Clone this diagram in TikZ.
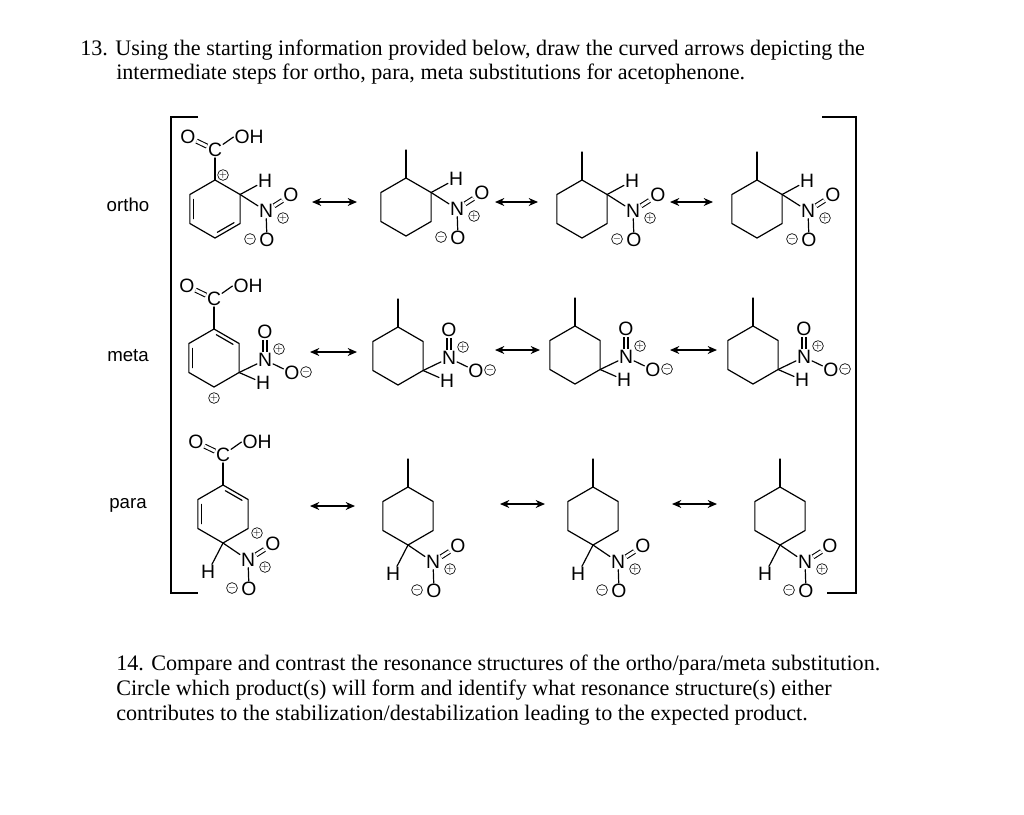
\documentclass[tikz,border=0pt]{standalone}
\usepackage{fontspec}
\setmainfont{Liberation Serif}
\setsansfont{Liberation Sans}
\usetikzlibrary{calc,arrows.meta}
\tikzset{
 bond/.style={line width=0.9pt,line cap=round},
 dbond/.style={double,double distance=2.2pt,line width=0.8pt},
 atom/.style={font=\sffamily\fontsize{14.5}{14.5}\selectfont,inner sep=0.6pt},
 chg/.style={draw,circle,line width=0.5pt,inner sep=0pt,minimum size=8pt,font=\fontsize{7.5}{7.5}\selectfont},
 rarrow/.style={{Stealth[length=7pt,width=6pt]}-{Stealth[length=7pt,width=6pt]},line width=0.9pt},
 qtext/.style={font=\fontsize{16.6}{19}\selectfont,anchor=base west,inner sep=0},
 rowlab/.style={font=\sffamily\fontsize{14}{14}\selectfont}
}
\newcommand\hexring[3]{%
 \coordinate (#1c) at (#2,#3);
 \foreach \i/\a in {1/270,2/330,3/30,4/90,5/150,6/210} {\coordinate (#1v\i) at ($(#1c)+(\a:29)$);}
 \draw[bond] (#1v1)--(#1v2)--(#1v3)--(#1v4)--(#1v5)--(#1v6)--cycle;}
\newcommand\dbl[3]{\draw[bond,shorten <=2pt,shorten >=2pt] ($(#1)!0.15!(#3)$) -- ($(#2)!0.15!(#3)$);}
\newcommand\methyl[1]{\coordinate (#1m) at ($(#1v1)+(0,-28)$); \draw[bond] (#1v1)--(#1m);}
\newcommand\plus[1]{\node[chg] at (#1) {$+$};}
\newcommand\minus[1]{\node[chg] at (#1) {$-$};}
\newcommand\cooh[1]{%
 \node[atom] (#1C) at ($(#1v1)+(0,-30)$) {C};
 \node[atom] (#1Oa) at ($(#1C)+(-27,-13)$) {O};
 \node[atom] (#1OH) at ($(#1C)+(34,-13)$) {OH};
 \draw[bond] (#1v1)--(#1C);
 \draw[dbond] (#1C)--(#1Oa);
 \draw[bond] (#1C)--(#1OH.west);}
\newcommand\nitroA[2]{%
 \node[atom] (#1N) at (#2) {N};
 \node[atom] (#1O1) at ($(#1N)+(25,-16)$) {O};
 \node[atom] (#1O2) at ($(#1N)+(1,29)$) {O};
 \draw[dbond] (#1N)--(#1O1);
 \draw[bond] (#1N)--(#1O2);
 \plus{$(#1N)+(17,7)$}
 \minus{$(#1O2)+(-17,-1)$}}
\newcommand\nitroB[2]{%
 \node[atom] (#1N) at (#2) {N};
 \node[atom] (#1O1) at ($(#1N)+(0,-28)$) {O};
 \node[atom] (#1O2) at ($(#1N)+(27,13)$) {O};
 \draw[dbond] (#1N)--(#1O1);
 \draw[bond] (#1N)--(#1O2);
 \plus{$(#1N)+(14,-11)$}
 \minus{$(#1O2)+(14,-1)$}}
\newcommand\ortho[1]{%
 \node[atom] (#1H) at ($(#1c)+(50,-28)$) {H};
 \draw[bond] (#1v2)--(#1H);
 \nitroA{#1}{$(#1c)+(51,2)$}
 \draw[bond] (#1v2)--(#1N);}
\newcommand\meta[1]{%
 \node[atom] (#1H) at ($(#1c)+(49,25)$) {H};
 \draw[bond] (#1v3)--(#1H);
 \nitroB{#1}{$(#1c)+(51,2)$}
 \draw[bond] (#1v3)--(#1N);}
\newcommand\para[1]{%
 \node[atom] (#1H) at ($(#1c)+(-15,58)$) {H};
 \draw[bond] (#1v4)--(#1H);
 \nitroA{#1}{$(#1c)+(25,46)$}
 \draw[bond] (#1v4)--(#1N);}
\begin{document}
\begin{tikzpicture}[x=0.75pt,y=-0.75pt]
\useasboundingbox[fill=white] (0,0) rectangle (1024,814);
\node[qtext] (q13a) at (80,55) {13. Using the starting information provided below, draw the curved arrows depicting the};
\node[qtext] (q13b) at (116,79) {intermediate steps for ortho, para, meta substitutions for acetophenone.};
\node[qtext] (q14a) at (116,670) {14. Compare and contrast the resonance structures of the ortho/para/meta substitution.};
\node[qtext] (q14b) at (116,695) {Circle which product(s) will form and identify what resonance structure(s) either};
\node[qtext] (q14c) at (116,720) {contributes to the stabilization/destabilization leading to the expected product.};
\draw[bond,line cap=butt] (198,117)--(171,117)--(171,593)--(198,593);
\draw[bond,line cap=butt] (822,117)--(856,117)--(856,593)--(827,593);
\node[rowlab] (lo) at (128,205) {ortho};
\node[rowlab] (lm) at (128,356) {meta};
\node[rowlab] (lp) at (128,505) {para};
% ortho
\hexring{oa}{215}{209}
\dbl{oav5}{oav6}{oac}\dbl{oav3}{oav4}{oac}
\cooh{oa}\plus{$(oav1)+(8,-5)$}\ortho{oa}
\hexring{ob}{406}{207}\methyl{ob}\ortho{ob}
\hexring{oc}{582}{209}\methyl{oc}\ortho{oc}
\hexring{od}{757}{209}\methyl{od}\ortho{od}
\coordinate (oa1) at (312,202);\coordinate (oa2) at (357,202);\draw[rarrow] (oa1)--(oa2);
\coordinate (ob1) at (495,202);\coordinate (ob2) at (538,202);\draw[rarrow] (ob1)--(ob2);
\coordinate (oc1) at (670,202);\coordinate (oc2) at (713,202);\draw[rarrow] (oc1)--(oc2);
% meta
\hexring{ma}{214}{358}
\dbl{mav1}{mav2}{mac}\dbl{mav5}{mav6}{mac}
\cooh{ma}\plus{$(mav4)+(0,11)$}\meta{ma}
\hexring{mb}{398}{356}\methyl{mb}\meta{mb}
\hexring{mc}{575}{355}\methyl{mc}\meta{mc}
\hexring{md}{753}{355}\methyl{md}\meta{md}
\coordinate (ma1) at (310,352);\coordinate (ma2) at (357,352);\draw[rarrow] (ma1)--(ma2);
\coordinate (mb1) at (495,350);\coordinate (mb2) at (540,350);\draw[rarrow] (mb1)--(mb2);
\coordinate (mc1) at (670,350);\coordinate (mc2) at (717,350);\draw[rarrow] (mc1)--(mc2);
% para
\hexring{pa}{223}{514}
\dbl{pav1}{pav2}{pac}\dbl{pav5}{pav6}{pac}
\cooh{pa}\plus{$(pac)+(34,19)$}\para{pa}
\hexring{pb}{408}{516}\methyl{pb}\para{pb}
\hexring{pc}{593}{516}\methyl{pc}\para{pc}
\hexring{pd}{780}{516}\methyl{pd}\para{pd}
\coordinate (pa1) at (310,506);\coordinate (pa2) at (355,506);\draw[rarrow] (pa1)--(pa2);
\coordinate (pb1) at (500,504);\coordinate (pb2) at (545,504);\draw[rarrow] (pb1)--(pb2);
\coordinate (pc1) at (672,504);\coordinate (pc2) at (717,504);\draw[rarrow] (pc1)--(pc2);
\end{tikzpicture}
\end{document}
